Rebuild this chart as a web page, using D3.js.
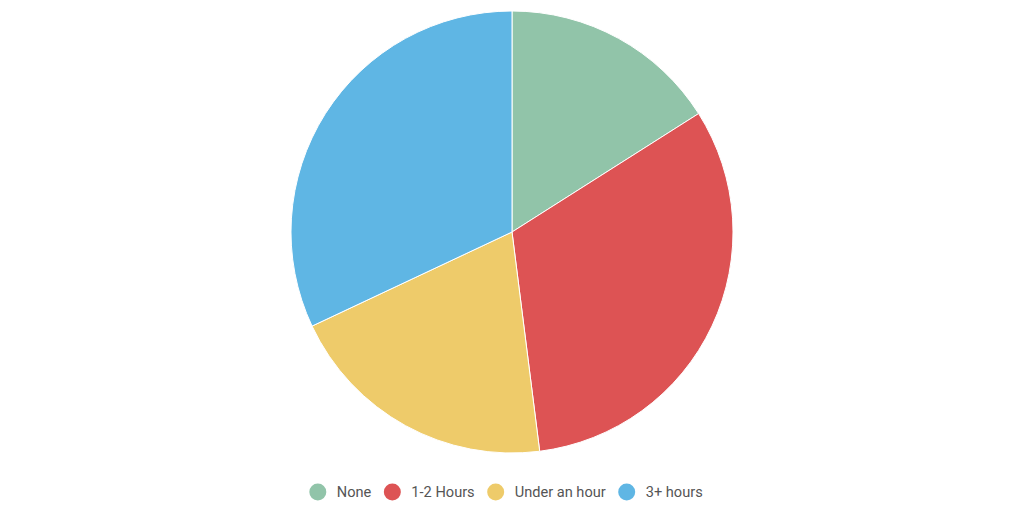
<!DOCTYPE html>
<html>
<head>
<meta charset="utf-8">
<script src="https://cdn.jsdelivr.net/npm/d3@7"></script>
<style>
  body { margin: 0; background: #fff; }
  svg { display: block; font-family: Roboto, sans-serif; }
</style>
</head>
<body>
<main></main>
<script>
const categories = ["None", "1-2 Hours", "Under an hour", "3+ hours"];
const values = [16, 32, 20, 32];
const colors = ["#91c4a9", "#dd5354", "#eecb6a", "#5fb6e4"];

const width = 1024;
const height = 512;
const cx = 512, cy = 232, radius = 221;

const svg = d3.select("main")
  .append("svg")
  .attr("width", width)
  .attr("height", height);

const color = d3.scaleOrdinal().domain(categories).range(colors);
const pie = d3.pie().sort(null).value(d => d.value);
const arc = d3.arc().innerRadius(0).outerRadius(radius);

const data = categories.map((c, i) => ({ name: c, value: values[i] }));

svg.append("g")
  .attr("transform", "translate(" + cx + "," + cy + ")")
  .selectAll("path")
  .data(pie(data))
  .enter()
  .append("path")
  .attr("d", arc)
  .attr("fill", d => color(d.data.name))
  .attr("stroke", "#fff")
  .attr("stroke-width", 1);

// legend under the pie
const legend = svg.append("g").attr("id", "legend");
const items = legend.selectAll("g")
  .data(categories)
  .enter()
  .append("g");

items.append("circle")
  .attr("r", 8.5)
  .attr("fill", d => color(d));

items.append("text")
  .attr("x", 19)
  .attr("dy", "0.35em")
  .style("font-size", "14.6px")
  .style("fill", "#555")
  .text(d => d);

let offset = 0;
const positions = [];
items.each(function(d) {
  const w = d3.select(this).select("text").node().getComputedTextLength();
  positions.push(offset);
  offset += 19 + w + 21;
});
const total = offset - 21 + 8.5;
const startX = 506 - total / 2 + 8.5;
items.attr("transform", (d, i) => "translate(" + (startX + positions[i]) + ",492)");
</script>
</body>
</html>
